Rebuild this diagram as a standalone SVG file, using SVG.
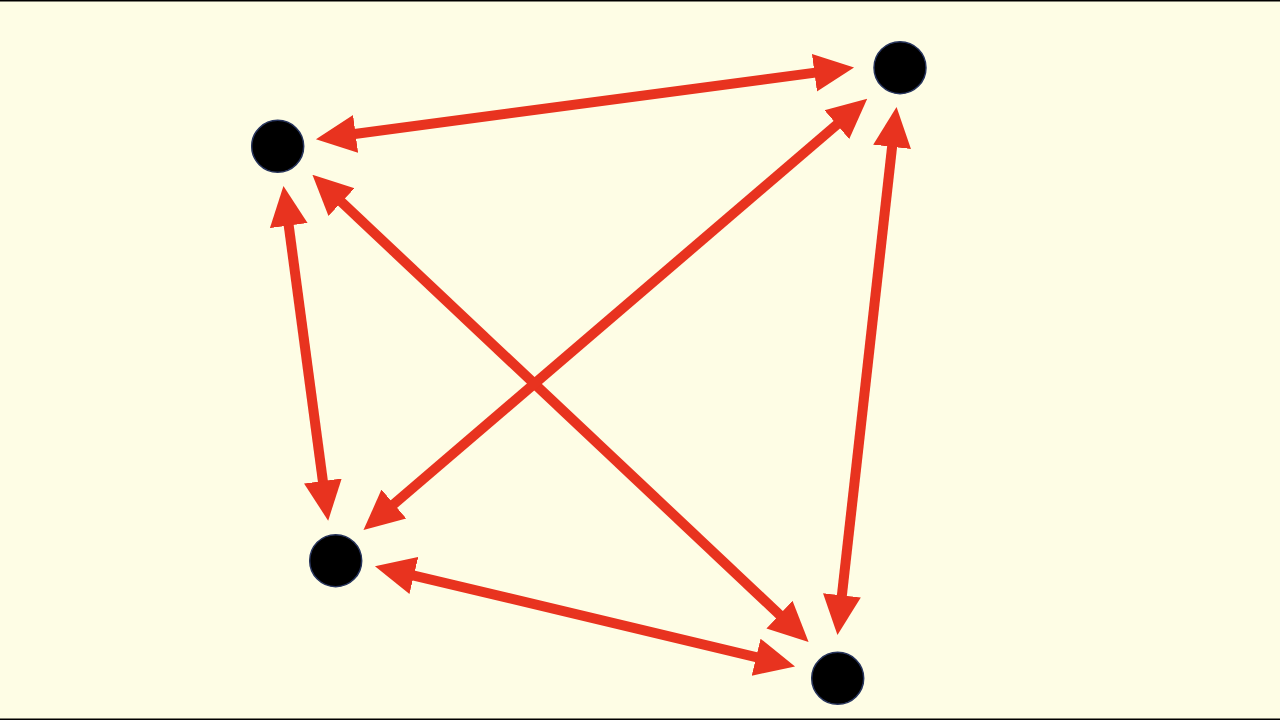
<svg xmlns="http://www.w3.org/2000/svg" width="1280" height="720" viewBox="0 0 1280 720">
  <style>
    .edge { stroke: #E8331F; stroke-width: 10; fill: none; marker-start: url(#head); marker-end: url(#head); }
    .node { fill: #000000; stroke: #27345C; stroke-width: 1.5; }
  </style>
  <defs>
    <marker id="head" viewBox="0 -2 4 4" refX="0.1" refY="0" markerWidth="4" markerHeight="4" markerUnits="strokeWidth" orient="auto-start-reverse">
      <path d="M0,-1.9 L4,0 L0,1.9 z" fill="#E8331F"/>
    </marker>
  </defs>
  <rect x="0" y="0" width="1280" height="720" fill="#FEFDE5"/>
  <rect x="0" y="0" width="1280" height="1.5" fill="#000000"/>
  <rect x="0" y="718.5" width="1280" height="1.5" fill="#000000"/>
  <g id="connectors">
    <line id="e-A-B" class="edge" x1="354.6" y1="134.0" x2="815.4" y2="72.6"/>
    <line id="e-A-C" class="edge" x1="288.6" y1="224.6" x2="323.0" y2="482.0"/>
    <line id="e-A-D" class="edge" x1="340.8" y1="201.4" x2="780.2" y2="615.3"/>
    <line id="e-B-C" class="edge" x1="837.6" y1="124.0" x2="393.1" y2="504.7"/>
    <line id="e-B-D" class="edge" x1="892.2" y1="145.8" x2="841.8" y2="596.3"/>
    <line id="e-C-D" class="edge" x1="412.9" y1="575.3" x2="757.1" y2="657.4"/>
  </g>
  <g id="node-A"><circle class="node" cx="277.7" cy="146.3" r="26"/></g>
  <g id="node-B"><circle class="node" cx="900" cy="67.7" r="26"/></g>
  <g id="node-C"><circle class="node" cx="335.7" cy="560.7" r="26"/></g>
  <g id="node-D"><circle class="node" cx="837.7" cy="678.3" r="26"/></g>
</svg>
